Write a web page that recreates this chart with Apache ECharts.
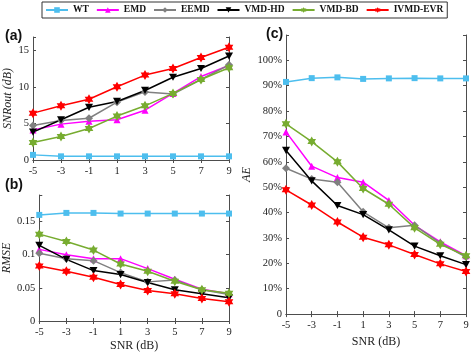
<!DOCTYPE html>
<html><head><meta charset="utf-8">
<script src="https://cdn.jsdelivr.net/npm/echarts@6/dist/echarts.min.js"></script>
<style>html,body{margin:0;padding:0;background:#fff}#c{width:474px;height:353px}</style>
</head><body><div id="c"></div>
<script>
// ---- data ----
const snr = ['-5','-3','-1','1','3','5','7','9'];
const methods = ['WT','EMD','EEMD','VMD-HD','VMD-BD','IVMD-EVR'];
// (a) SNRout (dB)
const snrWT   = [0.7,0.5,0.5,0.5,0.5,0.5,0.5,0.5];
const snrEMD  = [4.1,4.9,5.3,5.5,6.8,9.1,11.4,12.9];
const snrEEMD = [4.7,5.4,5.7,7.9,9.3,9.0,11.0,13.0];
const snrVHD  = [3.8,5.5,7.2,8.0,9.5,11.3,12.5,14.2];
const snrVBD  = [2.4,3.2,4.3,6.0,7.4,9.1,11.0,12.6];
const snrIVMD = [6.4,7.4,8.3,10.0,11.6,12.5,14.0,15.4];
// (b) RMSE
const rmseWT   = [0.160,0.163,0.163,0.162,0.162,0.162,0.162,0.162];
const rmseEMD  = [0.108,0.100,0.094,0.094,0.079,0.063,0.048,0.041];
const rmseEEMD = [0.102,0.094,0.091,0.073,0.059,0.062,0.047,0.040];
const rmseVHD  = [0.114,0.093,0.076,0.070,0.058,0.047,0.041,0.035];
const rmseVBD  = [0.131,0.120,0.107,0.086,0.075,0.060,0.047,0.042];
const rmseIVMD = [0.083,0.075,0.066,0.055,0.046,0.041,0.034,0.029];
// (c) AE (%)
const aeWT   = [91.5,93.0,93.3,92.7,92.9,93.0,92.9,92.9];
const aeEMD  = [71.8,58.3,53.8,52.0,44.8,35.0,28.5,23.0];
const aeEEMD = [57.5,53.2,52.0,40.3,34.0,35.0,28.0,22.5];
const aeVHD  = [64.5,52.5,42.8,39.2,33.2,26.8,23.0,19.5];
const aeVBD  = [75.0,68.0,60.0,49.5,43.3,34.0,27.5,23.0];
const aeIVMD = [49.0,43.0,36.3,30.3,27.3,23.5,19.8,16.8];
const yTicksA = [0,5,10,15];
const yTicksB = [0,0.05,0.1,0.15];
// ---- style ----
const colors = ['#4DBEEE','#FF00FF','#808080','#000000','#77AC30','#FF0000'];
const hexagram = 'path://M100,0 L128.87,50 L186.6,50 L157.7,100 L186.6,150 L128.87,150 L100,200 L71.13,150 L13.4,150 L42.3,100 L13.4,50 L71.13,50 Z';
const symbols = ['rect','triangle','diamond','path://M0,0 L10,0 L5,9 Z',hexagram,hexagram];
const symSizes = [6,7,8,8,10,10];
const serif = 'Liberation Serif';
const axCol = '#4d4d4d';

const panels = [
  {vals:[snrWT,snrEMD,snrEEMD,snrVHD,snrVBD,snrIVMD], min:0, max:16.8, interval:5, name:'SNRout (dB)',
   fmt:v=> yTicksA.includes(v)? String(v):''},
  {vals:[rmseWT,rmseEMD,rmseEEMD,rmseVHD,rmseVBD,rmseIVMD], min:0, max:0.19, interval:0.05, name:'RMSE',
   fmt:v=>{const r=Math.round(v*1000)/1000; return yTicksB.includes(r)? String(r):'';}},
  {vals:[aeWT,aeEMD,aeEEMD,aeVHD,aeVBD,aeIVMD], min:0, max:110, interval:10, name:'AE',
   fmt:v=> v===0?'0':(v>100?'':v+'%')}
];
const grids = [
  {left:33, top:37, width:196, height:123},
  {left:33, top:195, width:196, height:126},
  {left:286, top:35, width:180, height:287}
];
const xAxes=[], yAxes=[], series=[];
panels.forEach((p,g)=>{
  const base = {gridIndex:g, type:'category', data:snr, boundaryGap:false,
    axisLine:{show:true, lineStyle:{color:axCol, width:1}},
    axisTick:{show:true, inside:true, length:3, lineStyle:{color:axCol}},
    splitLine:{show:false}};
  xAxes.push(Object.assign({}, base, {position:'bottom',
    axisLabel:{show:true, fontFamily:serif, fontSize:10.5, color:'#222', margin:6},
    name: g===0? '' : 'SNR (dB)', nameLocation:'middle', nameGap:19,
    nameTextStyle:{fontFamily:serif, fontSize:12, color:'#222'}}));
  xAxes.push(Object.assign({}, base, {position:'top', axisLabel:{show:false}}));
  const yb = {gridIndex:g, type:'value', min:p.min, max:p.max, interval:p.interval,
    axisLine:{show:true, lineStyle:{color:axCol, width:1}},
    axisTick:{show:true, inside:true, length:3, lineStyle:{color:axCol}},
    splitLine:{show:false}};
  yAxes.push(Object.assign({}, yb, {position:'left',
    axisLabel:{show:true, fontFamily:serif, fontSize:10.5, color:'#222', margin:4, formatter:p.fmt},
    name:p.name, nameLocation:'middle', nameRotate:90, nameGap: g===2?33:19,
    nameTextStyle:{fontFamily:serif, fontStyle:'italic', fontSize:12, color:'#222'}}));
  yAxes.push(Object.assign({}, yb, {position:'right', axisLabel:{show:false}}));
  methods.forEach((m,i)=>{
    series.push({type:'line', name:m, xAxisIndex:2*g, yAxisIndex:2*g,
      data:p.vals[i], symbol:symbols[i], symbolSize:symSizes[i], symbolKeepAspect:true,
      lineStyle:{color:colors[i], width:1.5}, itemStyle:{color:colors[i]},
      animation:false});
  });
});

const chart = echarts.init(document.getElementById('c'), null, {renderer:'canvas'});
chart.setOption({
  animation:false,
  color:colors,
  grid:grids,
  xAxis:xAxes,
  yAxis:yAxes,
  legend:{data:methods, left:42, top:2, itemWidth:22, itemHeight:7, itemGap:7,
    padding:[3,4,3,3], borderColor:'#333', borderWidth:1,
    textStyle:{fontFamily:serif, fontWeight:'bold', fontSize:9.5, color:'#111'}},
  graphic:[
    {type:'text', left:5, top:29, style:{text:'(a)', font:'bold 14px "Liberation Sans"', fill:'#111'}},
    {type:'text', left:5, top:178, style:{text:'(b)', font:'bold 14px "Liberation Sans"', fill:'#111'}},
    {type:'text', left:266, top:27, style:{text:'(c)', font:'bold 14px "Liberation Sans"', fill:'#111'}}
  ],
  series:series
});
</script></body></html>
